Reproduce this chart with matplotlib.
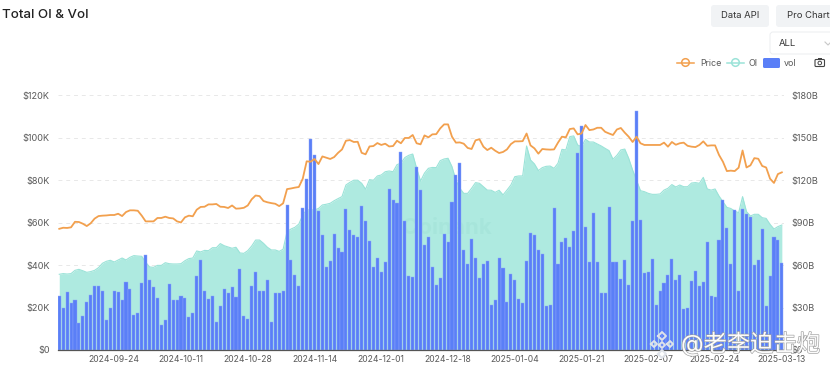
import matplotlib
matplotlib.use("Agg")
import matplotlib.pyplot as plt
import matplotlib.patheffects as pe
from matplotlib.patches import FancyBboxPatch, Rectangle, Circle
from matplotlib.lines import Line2D
import numpy as np
import pandas as pd

plt.rcParams['font.family'] = ['Inter', 'Noto Sans CJK SC', 'DejaVu Sans']

# daily values, 2024-09-10 -> 2025-03-13
vol = [38, 30, 41, 33, 35, 19, 24, 34, 39, 45,
       45, 42, 21, 30, 41.5, 41, 35, 48, 43, 25,
       26, 47, 67, 49.5, 44.5, 36.5, 18, 21, 46.5, 35,
       35, 38, 37, 23.5, 26, 52, 63.5, 41.5, 36, 38,
       20, 31, 43, 40, 44.5, 37.5, 57, 24, 22, 45,
       55, 42, 42, 49.5, 20, 40, 40, 42, 102.5, 63.6,
       53, 45, 100.6, 121, 149, 137.6, 98, 81, 59, 63,
       82, 72, 69, 100, 85, 81.5, 80, 102, 91, 77,
       59, 65, 55, 62, 113.5, 106, 104, 140, 91, 52,
       51.5, 129.5, 113, 74, 80, 59, 46, 51, 82, 76,
       104.5, 124, 132, 71, 61, 78.5, 65, 51, 61, 63,
       32, 35, 65, 58, 34, 54, 49.5, 36, 33.5, 63,
       83, 81.5, 71, 68, 31, 32, 100.6, 61, 76, 79,
       73, 84, 139, 158, 87, 62.5, 97, 62, 40, 40,
       101, 62, 62, 50, 63.6, 46, 91.4, 169, 91.6, 54.4,
       55, 64, 32, 41.7, 47, 53, 64, 49.5, 53, 29,
       30, 49, 55.6, 45, 48, 76.6, 38, 37.5, 78, 106,
       86, 61, 99, 41.7, 100, 96, 94, 60, 63.6, 85.5,
       31, 52, 80, 77.5, 61.5]

oi = [53.5, 54, 53.7, 54, 56.3, 57, 56, 54.9, 55.4, 56.3,
      58.2, 61.3, 62.7, 63.4, 62.2, 63.6, 65, 63.6, 65.5, 66.7,
      66.4, 66.2, 62, 58.7, 58.4, 59.8, 59.8, 61.7, 61, 60.8,
      60.8, 61, 63.1, 64.6, 65, 70, 69.3, 70.4, 70.2, 72.3,
      72.3, 75.2, 73.7, 72.8, 71.9, 72.6, 68.6, 68.3, 70.2, 73.5,
      77.7, 77.7, 75.4, 72.6, 70.7, 70.7, 69.7, 71.2, 83.6, 85.5,
      86.7, 89, 95.4, 99, 99, 99, 100, 102.5, 103, 103.7,
      105.5, 107, 108.4, 116.6, 118.5, 120, 120, 117.8, 113.6, 120.4,
      120, 123, 123.7, 126, 126.5, 126, 131, 132, 136, 137.6,
      138.5, 128.4, 119.4, 125, 128.4, 129, 128.9, 133.8, 135, 135.5,
      129.6, 120, 114.3, 110.7, 110.7, 114.3, 118.3, 117.8, 115.4, 113,
      112.9, 111.4, 112.9, 109.6, 113, 116.6, 122.5, 123, 123, 144.2,
      134.3, 131.5, 126.8, 128.9, 129.8, 130, 128.4, 132, 141.8, 141.4,
      150.8, 151.3, 144.9, 143.7, 148.9, 147, 147, 145.6, 144.2, 142.5,
      140.9, 134.8, 137.6, 141.4, 142, 135.5, 127.2, 120, 112.6, 111.9,
      110.7, 110, 110, 110.3, 113, 114.3, 116.9, 115.2, 116.6, 115.4,
      115.4, 118, 118.3, 117.8, 122, 113.8, 113, 113.8, 108.8, 104.8,
      100.8, 100, 98.2, 97, 108.4, 97.8, 94.7, 95.9, 95.9, 93.5,
      93, 88.8, 85.5, 87.2, 88.3]

price = [57.1, 57.6, 57.5, 57.8, 60.4, 60.3, 59.5, 58.4, 59.7, 61.9,
         63.1, 63.3, 63.4, 63.6, 63.6, 64.2, 63.1, 65, 65.8, 65.8,
         65.6, 63.3, 60.6, 60.6, 60.6, 62.2, 62.2, 62.8, 62.2, 62,
         60.6, 60.1, 62.5, 63.3, 63, 66.1, 67.4, 67.5, 68.6, 68.6,
         68.8, 67.5, 67.4, 66.9, 68.1, 66.6, 66.7, 67, 68.1, 71,
         72.8, 72.5, 70.2, 69.6, 69.2, 68.9, 67.8, 69.1, 75.8, 76.1,
         76.5, 76.8, 80.7, 88.9, 88.7, 90, 87.6, 91.2, 90.6, 90,
         90.9, 92.9, 94.5, 98.6, 98.9, 98, 98.1, 92.9, 92.2, 95.9,
         96.1, 97.5, 96.6, 97.2, 95.9, 96.1, 98.6, 97.4, 99.9, 99.9,
         101.3, 97.4, 96.9, 101.1, 100.2, 101.6, 101.7, 104.4, 106.3, 106.3,
         100.5, 97.7, 97.8, 97.2, 95.2, 94.7, 98.8, 99.3, 95.8, 94.2,
         95.3, 93.9, 92.8, 93.3, 94.5, 97, 98.3, 98.3, 98.4, 102,
         96.4, 95, 92.5, 94.7, 94.5, 94.4, 94.5, 97.7, 100.5, 100.2,
         104.1, 104.4, 101.6, 102, 106, 103.6, 103.9, 104.7, 104.7, 102.8,
         102, 101.3, 103.9, 104.6, 102.4, 100.5, 98, 100.5, 97.4, 96.6,
         96.6, 96.6, 96.6, 96.6, 97.7, 95.8, 98, 96.7, 97.4, 97.7,
         96.2, 95.8, 95.6, 96.6, 98.3, 96.2, 96.4, 96.4, 91.9, 88.7,
         84.3, 84.5, 84.3, 85.9, 94, 86, 87, 90.4, 90.1, 86.7,
         86, 80.7, 78.7, 82.9, 83.7]

start_date = '2024-09-10'
tick_dates = ['2024-09-24', '2024-10-11', '2024-10-28', '2024-11-14', '2024-12-01',
              '2024-12-18', '2025-01-04', '2025-01-21', '2025-02-07', '2025-02-24',
              '2025-03-13']
left_ticks = [0, 20, 40, 60, 80, 100, 120]
right_ticks = [0, 30, 60, 90, 120, 150, 180]

W, H = 830, 368
ORANGE = '#f2a04e'
TEAL = '#aeeae0'
TEAL_LINE = '#9be3d8'
BLUE = '#5a7ff7'
TXT = '#5a5a5a'

days = pd.date_range(start_date, periods=len(vol))
x = np.arange(len(vol))
tick_pos = [(pd.Timestamp(d) - days[0]).days for d in tick_dates]

fig = plt.figure(figsize=(W / 100, H / 100), dpi=100)
ax = fig.add_axes([57.5 / W, 1 - 350 / H, 726.5 / W, 254.7 / H])
ax2 = ax.twinx()

ax.set_ylim(0, 120)
ax2.set_ylim(0, 180)
ax.set_xlim(-0.45, len(vol) - 0.45)

# grid lives on the right axis so it stays under the area and bars
ax2.set_yticks(right_ticks)
ax2.grid(axis='y', color='#e8e8e8', ls=(0, (4, 4)), lw=0.7, zorder=0)
ax2.set_axisbelow(True)

ax2.fill_between(x, oi, color=TEAL, lw=0, zorder=1)
ax2.plot(x, oi, color=TEAL_LINE, lw=0.8, zorder=2)
# faint site mark sits between the area and the bars
ax2.text(447 / W, 1 - 228 / H, 'Coinank', color='#a3e3d8', fontsize=16, weight='bold',
         ha='center', va='center', alpha=0.6, zorder=2.5, transform=fig.transFigure)
ax2.bar(x, vol, width=0.78, color=BLUE, edgecolor='#8fa8fa', lw=0.3, zorder=3)

# price goes on top of the bars
ax.set_zorder(ax2.get_zorder() + 1)
ax.patch.set_visible(False)
ax.plot(x, price, color=ORANGE, lw=1.3, zorder=4)

for a in (ax, ax2):
    for s in a.spines.values():
        s.set_visible(False)
ax.spines['bottom'].set_visible(True)
ax.spines['bottom'].set_color('#555555')
ax.spines['bottom'].set_linewidth(0.9)

ax.set_xticks(tick_pos)
ax.set_xticklabels(tick_dates)
ax.tick_params(axis='x', length=0, pad=3.5, labelsize=6.2, labelcolor=TXT)
ax.set_yticks(left_ticks)
ax.set_yticklabels(['$0' if v == 0 else f'${v}K' for v in left_ticks])
ax.tick_params(axis='y', length=0, pad=5.5, labelsize=6.6, labelcolor=TXT)
ax2.set_yticklabels(['$0' if v == 0 else f'${v}B' for v in right_ticks])
ax2.tick_params(axis='y', length=0, pad=5, labelsize=6.6, labelcolor=TXT)

# page furniture, all in pixels
page = fig.add_axes([0, 0, 1, 1], zorder=10)
page.set_xlim(0, W)
page.set_ylim(H, 0)
page.axis('off')

page.text(2, 15.5, 'Total OI & Vol', fontsize=9.6, weight='medium', color='#222222', va='center')

page.add_patch(FancyBboxPatch((711, 5), 58, 22, boxstyle='round,pad=0,rounding_size=3',
                              fc='#f1f3f5', ec='none'))
page.add_patch(FancyBboxPatch((776, 5), 62, 22, boxstyle='round,pad=0,rounding_size=3',
                              fc='#f1f3f5', ec='none'))
page.text(740, 16, 'Data API', fontsize=6.8, color='#333333', ha='center', va='center')
page.text(787, 16, 'Pro Chart', fontsize=6.8, color='#333333', ha='left', va='center')
page.add_patch(FancyBboxPatch((770, 32), 70, 22, boxstyle='round,pad=0,rounding_size=3',
                              fc='white', ec='#eceef0', lw=0.7))
page.text(779, 43.5, 'ALL', fontsize=6.8, color='#333333', va='center')
page.plot([825, 828, 831], [42, 45, 42], color='#c8c8c8', lw=0.8)

# legend
page.add_line(Line2D([677, 694], [62.5, 62.5], color=ORANGE, lw=1.1))
page.add_patch(Circle((685.5, 62.5), 3.8, fc='white', ec=ORANGE, lw=1.1))
page.text(700, 63, 'Price', fontsize=6.4, color=TXT, va='center')
page.add_line(Line2D([727, 744], [62.5, 62.5], color=TEAL_LINE, lw=1.1))
page.add_patch(Circle((735.5, 62.5), 3.8, fc='white', ec=TEAL_LINE, lw=1.1))
page.text(748, 63, 'OI', fontsize=6.4, color=TXT, va='center')
page.add_patch(FancyBboxPatch((763, 58), 17, 10, boxstyle='round,pad=0,rounding_size=1.5',
                              fc=BLUE, ec='none'))
page.text(784, 63, 'vol', fontsize=6.4, color=TXT, va='center')

# camera icon
page.add_patch(FancyBboxPatch((815, 59.5), 9.5, 7, boxstyle='round,pad=0,rounding_size=1',
                              fc='white', ec='#444444', lw=0.8))
page.add_patch(Rectangle((818, 58), 3.5, 1.4, fc='#444444', ec='none'))
page.add_patch(Circle((819.8, 63), 1.8, fc='white', ec='#444444', lw=0.7))

# repost watermark
stroke = [pe.withStroke(linewidth=0.9, foreground='#9a9a9a')]
page.text(681, 344, '@老李迫击炮', fontsize=16.8, color='white', ha='left', va='center',
          alpha=0.95, path_effects=stroke)
for cx, cy, s in [(662, 336, 4), (654, 344, 3), (670, 344, 3), (662, 345, 3), (662, 354, 4)]:
    page.plot([cx - s, cx, cx + s, cx, cx - s], [cy, cy - s, cy, cy + s, cy],
              color='#dfe3ea', lw=1.4)

fig.savefig('out.png', dpi=100)
